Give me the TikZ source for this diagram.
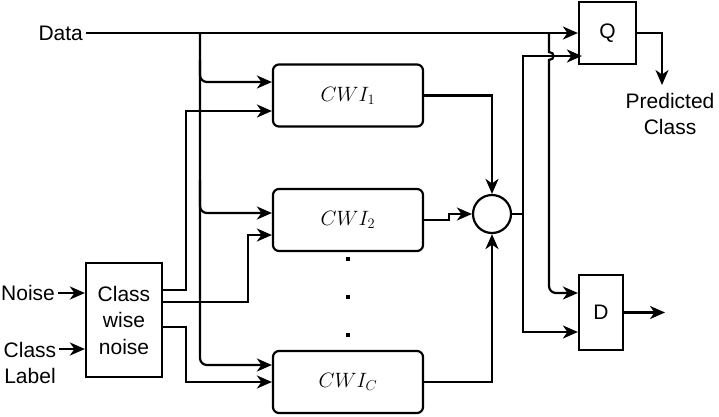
\documentclass[tikz,border=0pt]{standalone}
\usepackage{fontspec}
\setmainfont{Liberation Sans}
\usetikzlibrary{arrows.meta,calc}
\begin{document}
\begin{tikzpicture}[x=1pt,y=-1pt,
  line width=2.2pt,
  arr/.style={-{Stealth[length=15pt,width=13pt,inset=4.5pt]}},
  lbl/.style={font=\fontsize{21}{26.5}\selectfont, inner sep=2pt, align=center},
  cwibox/.style={draw, rounded corners=6pt, minimum width=150pt, minimum height=62pt, inner sep=0pt, font=\fontsize{20}{22}\selectfont},
  sqbox/.style={draw, inner sep=0pt, font=\fontsize{21}{26.5}\selectfont, align=center},
  dotmark/.style={fill, inner sep=0pt, minimum size=3.5pt}
]
\useasboundingbox (0,0) rectangle (719,416);

% nodes
\node[lbl, anchor=east] (data) at (86,33) {Data};
\node[sqbox, minimum width=57pt, minimum height=62pt] (Q) at (607.5,33) {Q};
\node[sqbox, minimum width=44pt, minimum height=75pt] (D) at (601,312.5) {D};
\node[cwibox] (cwi1) at (348,95.5) {$CWI_1$};
\node[cwibox] (cwi2) at (348,220) {$CWI_2$};
\node[cwibox] (cwiC) at (348,382) {$CWI_C$};
\node[draw, circle, minimum size=38pt, inner sep=0pt] (sum) at (492,214) {};
\node[sqbox, minimum width=76pt, minimum height=114pt] (cwn) at (124,320) {Class\\wise\\noise};
\node[lbl, anchor=east] (noise) at (58,293) {Noise};
\node[lbl] (clabel) at (30,363) {Class\\Label};
\node[lbl] (pred) at (670,114) {Predicted\\Class};
\node[dotmark] (d1) at (348,259) {};
\node[dotmark] (d2) at (348,297) {};
\node[dotmark] (d3) at (348,335) {};

% coordinates
\coordinate (t0) at (200,33);
\coordinate (b0) at (549,33);
\coordinate (j0) at (523,214);
\coordinate (qo) at (662,85);
\coordinate (dout) at (665,312.5);

% connectors
\draw[arr] (data.east) -- (Q.west);
\draw[arr, rounded corners=7pt] (t0) |- ([yshift=17pt]cwiC.west);
\draw[arr, rounded corners=7pt] (200,60) |- ([yshift=13.5pt]cwi1.west);
\draw[arr, rounded corners=7pt] (200,180) |- ([yshift=7pt]cwi2.west);
\draw[arr] ([yshift=30pt]cwn.east) -| (186,111) -- ([yshift=-15.5pt]cwi1.west);
\draw[arr] ([yshift=18pt]cwn.east) -| (248,235) -- ([yshift=-15pt]cwi2.west);
\draw[arr] ([yshift=-7pt]cwn.east) -| (186,382) -- (cwiC.west);
\draw[arr] (noise.east) -- (noise.east -| cwn.west);
\draw[arr] (clabel.east |- 0,349) -- (cwn.west |- 0,349);
\draw[arr] (cwi1.east) -| (sum.north);
\draw[arr] (cwi2.east) -- ++(25,0) |- (sum.west);
\draw[arr] (cwiC.east) -| (sum.south);
\draw (sum.east) -- (j0);
\draw[arr] (j0) |- ([xshift=4pt,yshift=-23pt]Q.west);
\draw[arr] (j0) |- ([yshift=-19.5pt]D.west);
\draw[arr] (b0) -- (549,52) .. controls (555,52) and (555,60) .. (549,60) [rounded corners=7pt] |- ([yshift=19.5pt]D.west);
\draw[arr] (Q.east) -| (qo);
\draw[arr] (D.east) -- (dout);
\end{tikzpicture}
\end{document}
